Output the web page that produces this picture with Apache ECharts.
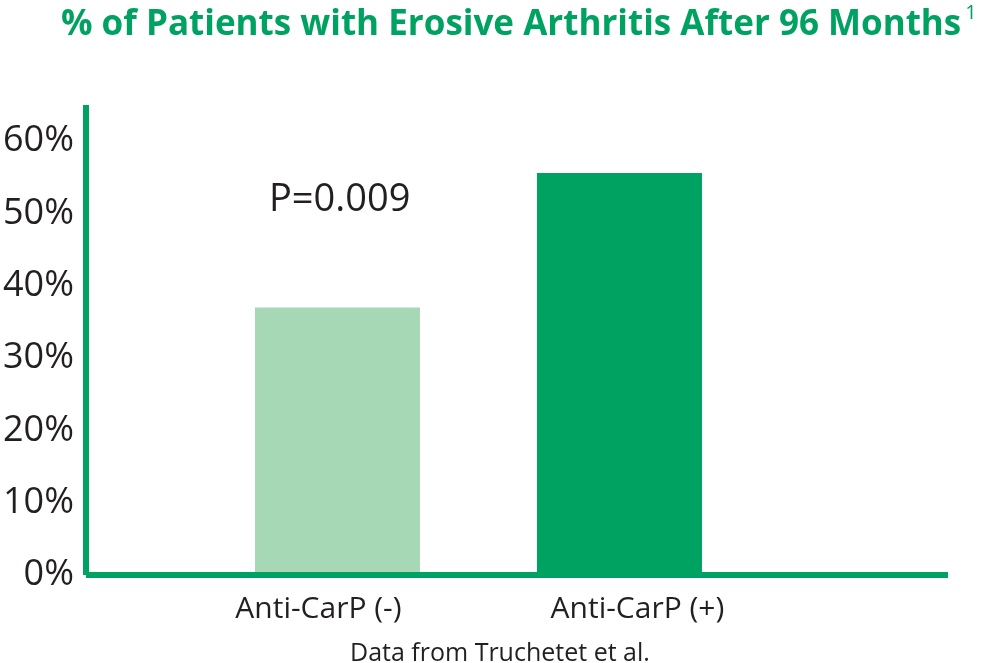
<!DOCTYPE html>
<html>
<head>
<meta charset="utf-8">
<script src="https://cdn.jsdelivr.net/npm/echarts@6/dist/echarts.min.js"></script>
<style>
  html, body { margin: 0; padding: 0; background: #fff; }
  #chart { width: 987px; height: 663px; }
</style>
</head>
<body>
<div id="chart"></div>
<script>
const categories = ['Anti-CarP (-)', 'Anti-CarP (+)'];
const positions = [1, 2];
const values = [37.0, 55.6];
const barColors = ['#A6D8B6', '#00A261'];
const yTicks = [0, 10, 20, 30, 40, 50, 60];
const titleText = '% of Patients with Erosive Arthritis After 96 Months';
const titleSup = '1';
const pText = 'P=0.009';
const sourceText = 'Data from Truchetet et al.';

const GREEN = '#00A261';
const DARK = '#231F20';
const FONT = '"Open Sans", sans-serif';

const chart = echarts.init(document.getElementById('chart'), null, { renderer: 'canvas' });

const barData = values.map((v, i) => ({
  value: [positions[i], v],
  itemStyle: { color: barColors[i] }
}));

chart.setOption({
  backgroundColor: '#fff',
  animation: false,
  title: [
    {
      text: '{t|' + titleText + '}{s|' + titleSup + '}',
      left: 56,
      top: -2,
      textStyle: {
        rich: {
          t: { fontFamily: FONT, fontWeight: 'bold', fontSize: 35, color: GREEN, lineHeight: 44 },
          s: { fontFamily: FONT, fontWeight: 'normal', fontSize: 20, color: GREEN, lineHeight: 30, verticalAlign: 'top', padding: [0, 0, 0, 4] }
        }
      }
    },
    {
      text: pText,
      left: 264,
      top: 176,
      textStyle: { fontFamily: FONT, fontWeight: 'normal', fontSize: 38, color: DARK }
    },
    {
      text: sourceText,
      left: 345,
      top: 636,
      textStyle: { fontFamily: FONT, fontWeight: 'normal', fontSize: 25, color: DARK }
    }
  ],
  grid: { left: 84.5, right: 39, top: 105, bottom: 88, containLabel: false },
  xAxis: {
    type: 'value',
    min: 0.108,
    max: 3.165,
    z: 5,
    axisLine: { show: true, lineStyle: { color: GREEN, width: 6, cap: 'butt' } },
    axisTick: { show: false },
    splitLine: { show: false },
    axisLabel: {
      customValues: positions,
      margin: 19,
      formatter: function (v) {
        const i = positions.indexOf(Math.round(v));
        return (i === 0 ? '{a|' : '{b|') + categories[i] + '}';
      },
      rich: {
        a: { fontFamily: FONT, fontSize: 30, color: DARK, padding: [0, 38, 0, 0] },
        b: { fontFamily: FONT, fontSize: 30, color: DARK, padding: [0, 0, 0, 36] }
      }
    }
  },
  yAxis: {
    type: 'value',
    min: 0,
    max: 65,
    z: 5,
    axisLine: { show: true, lineStyle: { color: GREEN, width: 6, cap: 'butt' } },
    axisTick: { show: false },
    splitLine: { show: false },
    axisLabel: {
      customValues: yTicks,
      margin: 12,
      fontFamily: FONT,
      fontSize: 36,
      color: DARK,
      formatter: '{value}%'
    }
  },
  series: [
    {
      type: 'bar',
      data: barData,
      barWidth: 165
    }
  ]
});
</script>
</body>
</html>
